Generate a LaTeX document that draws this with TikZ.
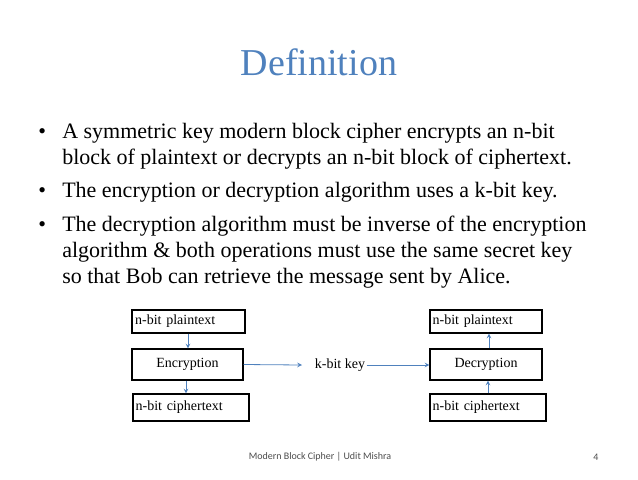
\documentclass[tikz,border=0pt]{standalone}
\usepackage{fontspec}
\setmainfont{Liberation Serif}
\newfontfamily\footfont{Carlito}
\begin{document}
\begin{tikzpicture}[x=0.75pt,y=-0.75pt,
  box/.style={draw,thick,inner sep=0pt,font=\fontsize{10.5}{12}\selectfont},
  arr/.style={draw={rgb,255:red,79;green,129;blue,189},->,>=stealth,semithick},
  body/.style={anchor=base west,inner sep=0pt,font=\fontsize{16.5}{20}\selectfont},
  bul/.style={anchor=base west,inner sep=0pt,font=\fontsize{16.5}{20}\selectfont}]
\definecolor{titleblue}{RGB}{79,129,189}
\useasboundingbox (0,0) rectangle (638,479);
\node[text=titleblue,font=\fontsize{28.5}{32}\selectfont] (title) at (319,62) {Definition};
\node[bul] (b1) at (38,138) {•};
\node[body] (l1) at (62,138) {A symmetric key modern block cipher encrypts an n-bit};
\node[body] (l2) at (62,164) {block of plaintext or decrypts an n-bit block of ciphertext.};
\node[bul] (b2) at (38,197) {•};
\node[body] (l3) at (62,197) {The encryption or decryption algorithm uses a k-bit key.};
\node[bul] (b3) at (38,231) {•};
\node[body] (l4) at (62,231) {The decryption algorithm must be inverse of the encryption};
\node[body] (l5) at (62,257) {algorithm \& both operations must use the same secret key};
\node[body] (l6) at (62,283) {so that Bob can retrieve the message sent by Alice.};
\node[box,minimum width=84.75pt,minimum height=17.25pt,text width=80pt,align=left] (lp) at (188.5,321.5) {n-bit plaintext};
\node[box,minimum width=83.25pt,minimum height=23.25pt] (enc) at (187.5,364.5) {Encryption};
\node[box,minimum width=87pt,minimum height=20.25pt,text width=83pt,align=left] (lc) at (191,407.5) {n-bit ciphertext};
\node[font=\fontsize{10.5}{12}\selectfont,inner sep=1pt] (key) at (340,365) {k-bit key};
\node[box,minimum width=84pt,minimum height=17.25pt,text width=80pt,align=left] (rp) at (486,321.5) {n-bit plaintext};
\node[box,minimum width=84pt,minimum height=23.25pt] (dec) at (486,364.5) {Decryption};
\node[box,minimum width=87pt,minimum height=20.25pt,text width=83pt,align=left] (rc) at (488,407.5) {n-bit ciphertext};
\draw[arr] (lp.south-|188,0) -- (enc.north-|188,0);
\draw[arr] (enc.south-|186,0) -- (lc.north-|186,0);
\draw[arr] (enc.east) -- (302,365) coordinate (k1);
\draw[arr] (key.east) -- (dec.west|-key.east);
\draw[arr] (rc.north-|488,0) -- (dec.south-|488,0);
\draw[arr] (dec.north-|489,0) -- (rp.south-|489,0);
\node[font=\footfont\fontsize{7.5}{9}\selectfont,text=black!70] (foot) at (320,457) {Modern Block Cipher | Udit Mishra};
\node[font=\footfont\fontsize{7.5}{9}\selectfont,text=black!70] (pg) at (596,457) {4};
\end{tikzpicture}
\end{document}
